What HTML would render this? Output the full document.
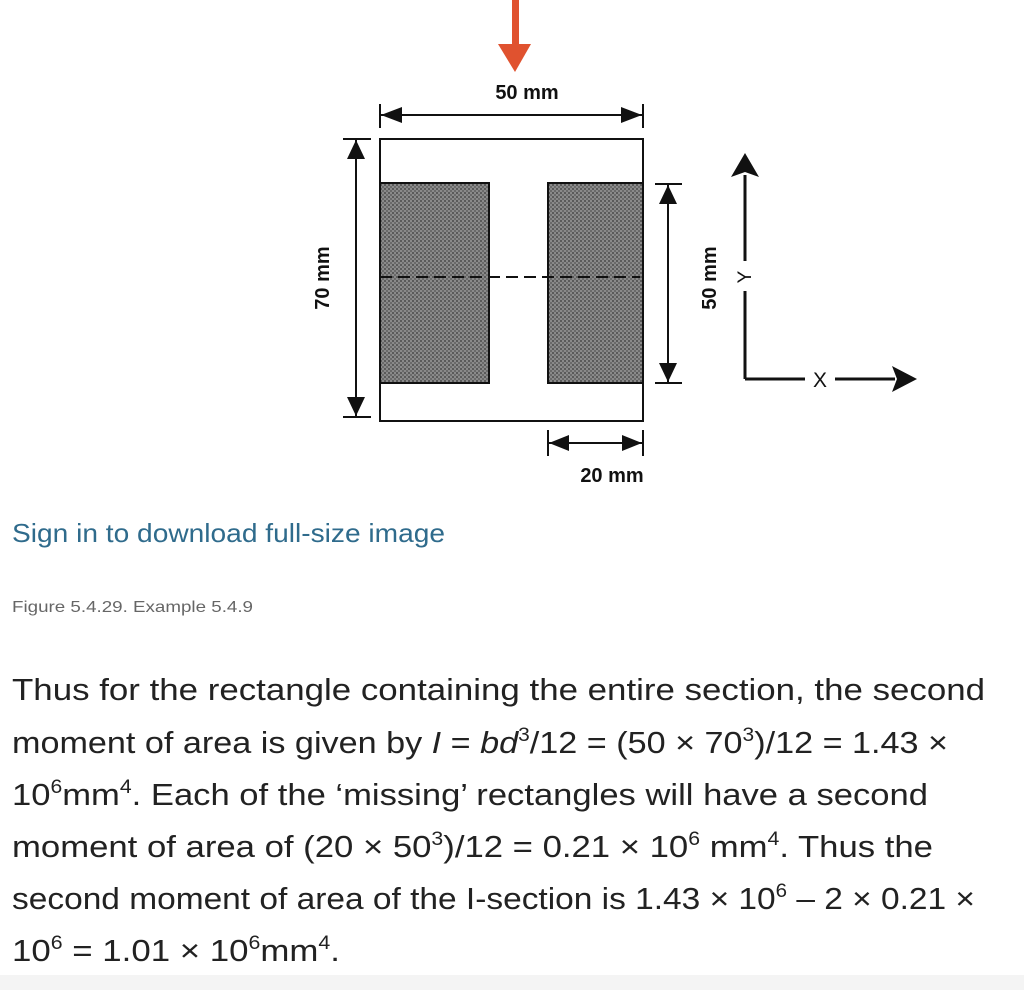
<!DOCTYPE html>
<html><head><meta charset="utf-8"><style>
html,body{margin:0;padding:0;background:#fff;width:1024px;height:990px;overflow:hidden}
svg{display:block}
.t{font-family:"Liberation Sans",sans-serif;font-size:31px;fill:#222}
.s{font-size:19px}
.d{font-family:"Liberation Sans",sans-serif;font-weight:bold;font-size:20px;fill:#111}
</style></head><body>
<svg width="1024" height="990" viewBox="0 0 1024 990" xmlns="http://www.w3.org/2000/svg">
<defs>
<pattern id="dots" width="4" height="4" patternUnits="userSpaceOnUse">
<rect width="4" height="4" fill="#8a8a8a"/>
<rect width="2" height="2" fill="#5a5a5a"/>
<rect x="2" y="2" width="2" height="2" fill="#6a6a6a"/>
</pattern>
</defs>
<rect x="0" y="975" width="1024" height="15" fill="#f4f4f4"/>
<!-- red arrow -->
<rect x="512" y="0" width="7" height="48" fill="#e0522f"/>
<polygon points="498,44 531,44 515,72" fill="#e0522f"/>
<!-- outer rect -->
<rect x="380" y="139" width="263" height="282" fill="#fff" stroke="#111" stroke-width="2"/>
<rect x="380" y="183" width="109" height="200" fill="url(#dots)" stroke="#111" stroke-width="2"/>
<rect x="548" y="183" width="95" height="200" fill="url(#dots)" stroke="#111" stroke-width="2"/>
<line x1="380" y1="277" x2="640" y2="277" stroke="#111" stroke-width="2" stroke-dasharray="12,6"/>
<!-- top dim -->
<line x1="380" y1="104" x2="380" y2="128" stroke="#111" stroke-width="2"/>
<line x1="643" y1="104" x2="643" y2="128" stroke="#111" stroke-width="2"/>
<line x1="380" y1="115" x2="643" y2="115" stroke="#111" stroke-width="2"/>
<polygon points="381,115 402,107 402,123" fill="#111"/>
<polygon points="642,115 621,107 621,123" fill="#111"/>
<text class="d" x="527" y="99" text-anchor="middle">50 mm</text>
<!-- left dim -->
<line x1="343" y1="139" x2="371" y2="139" stroke="#111" stroke-width="2"/>
<line x1="343" y1="417" x2="371" y2="417" stroke="#111" stroke-width="2"/>
<line x1="356" y1="139" x2="356" y2="417" stroke="#111" stroke-width="2"/>
<polygon points="356,140 347,159 365,159" fill="#111"/>
<polygon points="356,416 347,397 365,397" fill="#111"/>
<text class="d" transform="translate(329,278) rotate(-90)" text-anchor="middle">70 mm</text>
<!-- right dim -->
<line x1="655" y1="184" x2="682" y2="184" stroke="#111" stroke-width="2"/>
<line x1="655" y1="383" x2="682" y2="383" stroke="#111" stroke-width="2"/>
<line x1="668" y1="184" x2="668" y2="383" stroke="#111" stroke-width="2"/>
<polygon points="668,185 659,204 677,204" fill="#111"/>
<polygon points="668,382 659,363 677,363" fill="#111"/>
<text class="d" transform="translate(716,278) rotate(-90)" text-anchor="middle">50 mm</text>
<!-- bottom dim -->
<line x1="548" y1="430" x2="548" y2="456" stroke="#111" stroke-width="2"/>
<line x1="643" y1="430" x2="643" y2="456" stroke="#111" stroke-width="2"/>
<line x1="548" y1="443" x2="643" y2="443" stroke="#111" stroke-width="2"/>
<polygon points="549,443 569,435 569,451" fill="#111"/>
<polygon points="642,443 622,435 622,451" fill="#111"/>
<text class="d" x="612" y="482" text-anchor="middle">20 mm</text>
<!-- axes -->
<line x1="745" y1="175" x2="745" y2="261" stroke="#111" stroke-width="3"/>
<line x1="745" y1="291" x2="745" y2="379" stroke="#111" stroke-width="3"/>
<polygon points="745,153 731,177 745,172 759,177" fill="#111"/>
<text transform="translate(751,277) rotate(-90)" text-anchor="middle" font-family="Liberation Sans,sans-serif" font-size="19" fill="#111">Y</text>
<line x1="745" y1="379" x2="805" y2="379" stroke="#111" stroke-width="3"/>
<line x1="835" y1="379" x2="895" y2="379" stroke="#111" stroke-width="3"/>
<polygon points="917,379 892,366 897,379 892,392" fill="#111"/>
<text x="820" y="387" text-anchor="middle" font-family="Liberation Sans,sans-serif" font-size="21" fill="#111">X</text>
<!-- captions -->
<text x="12" y="542" textLength="433" lengthAdjust="spacingAndGlyphs" font-family="Liberation Sans,sans-serif" font-size="26" fill="#2f6b8c">Sign in to download full-size image</text>
<text x="12" y="612" textLength="241" lengthAdjust="spacingAndGlyphs" font-family="Liberation Sans,sans-serif" font-size="16" fill="#666">Figure 5.4.29. Example 5.4.9</text>
<!-- body -->
<text class="t" x="12" y="700" textLength="973" lengthAdjust="spacingAndGlyphs">Thus for the rectangle containing the entire section, the second</text>
<text class="t" x="12" y="753" textLength="936" lengthAdjust="spacingAndGlyphs">moment of area is given by <tspan font-style="italic">I</tspan> = <tspan font-style="italic">bd</tspan><tspan class="s" dy="-12">3</tspan><tspan dy="12">/12 = (50 × 70</tspan><tspan class="s" dy="-12">3</tspan><tspan dy="12">)/12 = 1.43 ×</tspan></text>
<text class="t" x="12" y="805" textLength="916" lengthAdjust="spacingAndGlyphs">10<tspan class="s" dy="-12">6</tspan><tspan dy="12">mm</tspan><tspan class="s" dy="-12">4</tspan><tspan dy="12">. Each of the ‘missing’ rectangles will have a second</tspan></text>
<text class="t" x="12" y="857" textLength="921" lengthAdjust="spacingAndGlyphs">moment of area of (20 × 50<tspan class="s" dy="-12">3</tspan><tspan dy="12">)/12 = 0.21 × 10</tspan><tspan class="s" dy="-12">6</tspan><tspan dy="12"> mm</tspan><tspan class="s" dy="-12">4</tspan><tspan dy="12">. Thus the</tspan></text>
<text class="t" x="12" y="909" textLength="963" lengthAdjust="spacingAndGlyphs">second moment of area of the I-section is 1.43 × 10<tspan class="s" dy="-12">6</tspan><tspan dy="12"> – 2 × 0.21 ×</tspan></text>
<text class="t" x="12" y="961" textLength="328" lengthAdjust="spacingAndGlyphs">10<tspan class="s" dy="-12">6</tspan><tspan dy="12"> = 1.01 × 10</tspan><tspan class="s" dy="-12">6</tspan><tspan dy="12">mm</tspan><tspan class="s" dy="-12">4</tspan><tspan dy="12">.</tspan></text>
</svg>
</body></html>
